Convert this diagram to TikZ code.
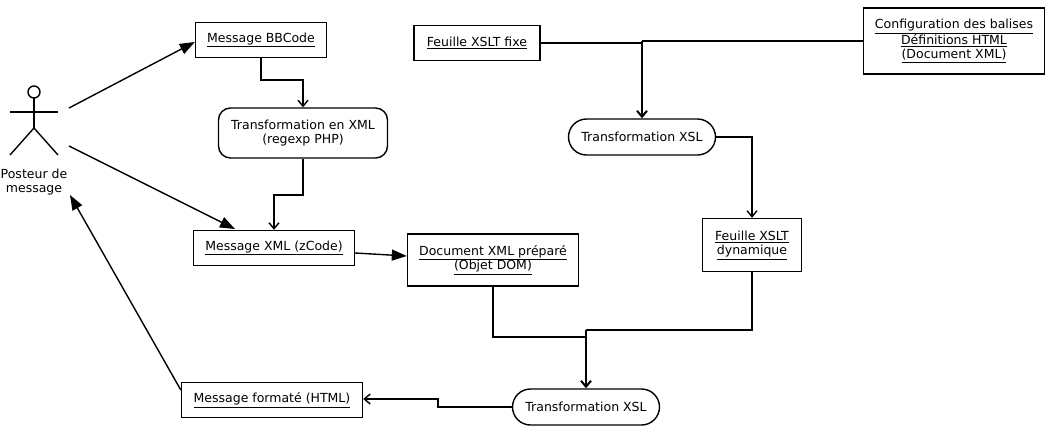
\documentclass[tikz,border=0pt]{standalone}
\usepackage{fontspec}
\setmainfont{DejaVu Sans}
\usetikzlibrary{arrows.meta,positioning}
\newcommand{\ul}[1]{\underline{#1}}
\begin{document}
\begin{tikzpicture}[x=1pt,y=-1pt,line width=1.4pt,
    obj/.style={draw,rectangle,align=center,font=\fontsize{12.5}{14.5}\selectfont,inner sep=3pt},
    act/.style={draw,rounded corners=12pt,align=center,font=\fontsize{12.5}{14.5}\selectfont,inner sep=3pt},
    flow/.style={-{Straight Barb[length=6pt,width=10pt]}},
    msg/.style={-{Triangle[length=15pt,width=11pt]}}]

    \useasboundingbox (0,0) rectangle (1047,426);

    % Define the actor
    \draw (34,92) circle (6);
    \draw (34,98) -- (34,128);
    \draw (10,112) -- (58,112);
    \draw (10,155) -- (34,128) -- (58,155);
    \node[align=center,font=\fontsize{12.5}{14.5}\selectfont] (poster) at (34,182) {Posteur de\\message};
    \coordinate (armR) at (69,108);
    \coordinate (armR2) at (69,146);
    \coordinate (back) at (70,195);

    % Left column
    \node[obj,minimum width=131,minimum height=35] (bbcode) at (261,40) {\ul{Message BBCode}};
    \node[act,minimum width=169,minimum height=50] (toxml) at (303,133) {Transformation en XML\\(regexp PHP)};
    \node[obj,minimum width=161,minimum height=35] (zcode) at (274,248) {\ul{Message XML (zCode)}};
    \node[obj,minimum width=171,minimum height=52] (dom) at (493,260) {\ul{Document XML préparé}\\\ul{(Objet DOM)}};
    \node[obj,minimum width=181,minimum height=35] (html) at (272,400) {\ul{Message formaté (HTML)}};
    \node[act,minimum width=147,minimum height=36,rounded corners=18pt] (xslB) at (586,407) {Transformation XSL};

    % Right part
    \node[obj,minimum width=126,minimum height=35] (fixe) at (477,43) {\ul{Feuille XSLT fixe}};
    \node[obj,minimum width=181,minimum height=66] (conf) at (954,41) {\ul{Configuration des balises}\\\ul{Définitions HTML}\\\ul{(Document XML)}};
    \node[act,minimum width=147,minimum height=36,rounded corners=18pt] (xslT) at (642,137) {Transformation XSL};
    \node[obj,minimum width=99,minimum height=53] (dyn) at (752,245) {\ul{Feuille XSLT}\\\ul{dynamique}};

    % Connectors
    \draw[msg] (armR) -- (bbcode.west |- 0,42);
    \draw[msg] (armR2) -- (235,229);
    \draw[msg] (html.west |- 0,390) -- (back);
    \draw[msg] (zcode.east |- 0,253) -- (dom.west |- 0,256);

    \draw[flow] (bbcode.south) |- (303,80) -- (toxml.north);
    \draw[flow] (toxml.south) |- (274,195) -- (zcode.north);

    \draw (fixe.east) -- (642,43);
    \draw (conf.west) -- (642,41);
    \draw[flow,line width=2pt] (642,41) -- (xslT.north);
    \draw[flow] (xslT.east) -| (dyn.north);

    \draw (dom.south) |- (586,337);
    \draw (dyn.south) |- (586,330);
    \draw[flow,line width=2pt] (586,330) -- (xslB.north);
    \draw[flow] (xslB.west) -- (438,407) -- (438,399) -- (html.east |- 0,399);

\end{tikzpicture}
\end{document}
